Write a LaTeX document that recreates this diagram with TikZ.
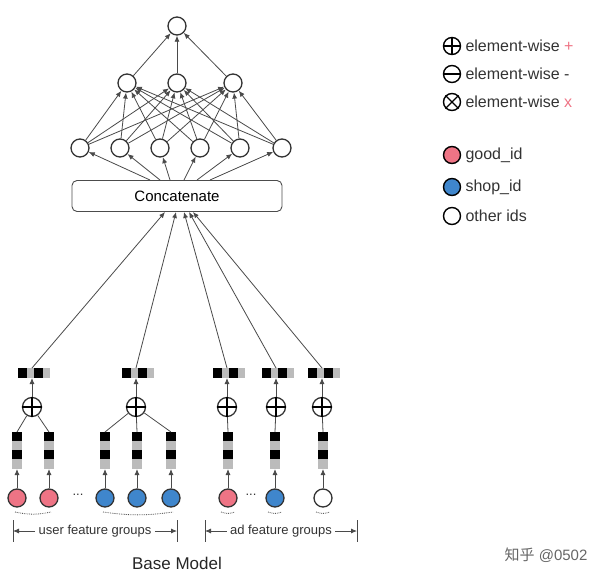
\documentclass[tikz,border=0pt]{standalone}
\usepackage{fontspec}
\setmainfont{Liberation Sans}
\newfontfamily\cjkf{Noto Sans CJK SC}
\usetikzlibrary{arrows.meta}
\definecolor{pk}{HTML}{EE7485}
\definecolor{bl}{HTML}{3F86CC}
\definecolor{gr}{HTML}{BBBBBB}
\definecolor{ln}{HTML}{4A4A4A}
\begin{document}
\begin{tikzpicture}[x=1pt,y=-1pt,
  nn/.style={circle,draw=black!80,line width=1.3pt,fill=white,minimum size=18pt,inner sep=0},
  idn/.style={circle,draw=black!80,line width=1.3pt,minimum size=18pt,inner sep=0},
  op/.style={circle,draw=black!80,line width=1.3pt,minimum size=19pt,inner sep=0},
  arr/.style={draw=ln,line width=0.8pt,-{Latex[length=6pt,width=5pt]}},
  lnn/.style={draw=ln,line width=0.8pt},
  lab/.style={font=\fontsize{13}{15}\selectfont,text=black!80}]
\useasboundingbox (0,0) rectangle (600,581);
% top
\node[nn] (t) at (177,26) {};
\foreach \x [count=\i] in {127,177,233}{\node[nn] (m\i) at (\x,83) {};}
\foreach \x [count=\i] in {80,120,160,200,240,282}{\node[nn] (b\i) at (\x,148) {};}
\node[draw=black!70,line width=0.9pt,rounded corners=5pt,minimum width=210pt,minimum height=31pt,inner sep=0,font=\fontsize{15}{17}\selectfont] (cc) at (177,196) {Concatenate};
\foreach \i in {1,2,3}{\draw[arr] (m\i) -- (t);}
\foreach \i in {1,...,6}{\foreach \j in {1,2,3}{\draw[arr] (b\i) -- (m\j);}}
\foreach \i/\s in {1/150,2/160,3/170,4/184,5/197,6/210}{
  \coordinate (cs\i) at (\s,180); \draw[arr] (cs\i) -- (b\i);}
% embeddings
\newcommand{\hemb}[2]{%
  \fill[black] (#1-15,#2-5) rectangle (#1-6,#2+5);
  \fill[gr] (#1-6,#2-5) rectangle (#1+1,#2+5);
  \fill[black] (#1+1,#2-5) rectangle (#1+10,#2+5);
  \fill[gr] (#1+10,#2-5) rectangle (#1+17,#2+5);}
\newcommand{\vemb}[1]{%
  \fill[black] (#1-5,432) rectangle (#1+5,441);
  \fill[gr] (#1-5,441) rectangle (#1+5,450);
  \fill[black] (#1-5,450) rectangle (#1+5,459);
  \fill[gr] (#1-5,459) rectangle (#1+5,469);}
\foreach \x [count=\i] in {33,137,228,277,323}{
  \hemb{\x}{373}
  \coordinate (e\i) at (\x-1,368);
  \coordinate (eb\i) at (\x-1,378);
  \node[op] (o\i) at (\x-1,407) {};
  \draw[line width=1.3pt] (o\i.north) -- (o\i.south) (o\i.west) -- (o\i.east);
  \draw[arr] (o\i) -- (eb\i);}
\foreach \i/\t in {1/165,2/176,3/184,4/189,5/193}{
  \coordinate (ct\i) at (\t,212); \draw[arr] (e\i) -- (ct\i);}
\foreach \x [count=\i] in {17,49,105,137,171,228,275,323}{
  \vemb{\x}
  \coordinate (vt\i) at (\x,432);
  \coordinate (vb\i) at (\x,469);}
\foreach \x/\c [count=\i] in {17/pk,49/pk,105/bl,137/bl,171/bl,228/pk,275/bl,323/white}{
  \node[idn,fill=\c] (c\i) at (\x,498) {};
  \draw[arr] (c\i) -- (vb\i);}
\draw[lnn] (o1) -- (vt1) (o1) -- (vt2);
\draw[lnn] (o2) -- (vt3) (o2) -- (vt4) (o2) -- (vt5);
\draw[lnn] (o3) -- (vt6) (o4) -- (vt7) (o5) -- (vt8);
\node[lab] (d1) at (78,495) {...};
\node[lab] (d2) at (251,495) {...};
% dotted arcs
\draw[densely dotted,lnn] (15,512) to[bend right=12] (51,512);
\draw[densely dotted,lnn] (103,512) to[bend right=8] (173,512);
\foreach \x in {228,275,323}{\draw[densely dotted,lnn] (\x-7,512) to[bend right=20] (\x+7,512);}
% brackets
\node[lab] (u) at (95,531) {user feature groups};
\node[lab] (a) at (281,531) {ad feature groups};
\coordinate (ul) at (13,531); \coordinate (ur) at (177,531);
\coordinate (al) at (205,531); \coordinate (arx) at (357,531);
\draw[lnn] (13,520) -- (13,542) (177,520) -- (177,542) (205,520) -- (205,542) (357,520) -- (357,542);
\draw[arr] (u.west) -- (ul); \draw[arr] (u.east) -- (ur);
\draw[arr] (a.west) -- (al); \draw[arr] (a.east) -- (arx);
\node[font=\fontsize{17}{19}\selectfont,text=black!85] (bm) at (177,563) {Base Model};
% legend
\tikzset{ls/.style={circle,draw=black,line width=1.4pt,minimum size=17pt,inner sep=0},
  lt/.style={anchor=west,font=\fontsize{16}{18}\selectfont,text=black!80}}
\node[ls] (l1) at (452,46) {}; \draw[line width=1.4pt] (l1.north)--(l1.south) (l1.west)--(l1.east);
\node[ls] (l2) at (452,74) {}; \draw[line width=1.4pt] (l2.west)--(l2.east);
\node[ls] (l3) at (452,102) {}; \draw[line width=1.4pt] (l3.north west)--(l3.south east) (l3.north east)--(l3.south west);
\node[lt] at (462,46) {element-wise \textcolor{pk}{+}};
\node[lt] at (462,74) {element-wise -};
\node[lt] at (462,102) {element-wise \textcolor{pk}{x}};
\node[ls,fill=pk] (l4) at (452,155) {}; \node[lt] at (462,155) {good\_id};
\node[ls,fill=bl] (l5) at (452,187) {}; \node[lt] at (462,187) {shop\_id};
\node[ls,fill=white] (l6) at (452,216) {}; \node[lt] at (462,216) {other ids};
\node[font=\fontsize{15}{17}\selectfont,text=black!60] (wm) at (546,555) {{\cjkf 知乎} @0502};
\end{tikzpicture}
\end{document}
